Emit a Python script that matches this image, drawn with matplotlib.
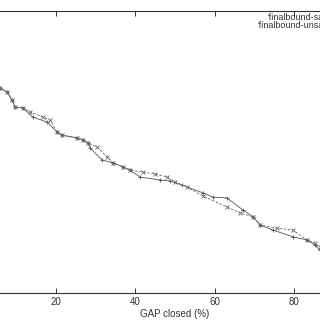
import matplotlib
matplotlib.use("Agg")
import matplotlib.pyplot as plt

plt.rcParams['font.family'] = ['Liberation Sans', 'DejaVu Sans']

# GAP closed (%) and final bound for the two runs
sat_x = [0.0, 6.0, 7.8, 9.1, 9.8, 11.8, 14.3, 17.9, 20.4, 21.6, 25.4, 26.9, 28.2,
         28.7, 31.7, 34.5, 37.0, 38.7, 41.3, 46.3, 48.8, 51.8, 57.1, 59.6, 63.1,
         67.2, 69.7, 71.5, 74.7, 79.8, 83.3, 85.3, 86.5, 89.1]
sat_y = [76.2, 72.7, 71.3, 68.4, 66.0, 65.6, 62.4, 60.6, 57.1, 56.0, 55.0, 54.3, 53.2,
         51.4, 47.2, 46.1, 44.7, 43.6, 41.1, 40.1, 39.7, 38.3, 35.5, 34.0, 33.7,
         29.4, 27.0, 24.1, 22.3, 19.9, 18.8, 17.0, 15.2, 14.2]

unsat_x = [0.0, 6.0, 7.8, 9.1, 9.8, 11.8, 13.6, 16.9, 18.6, 20.4, 21.6, 25.4, 26.9,
           28.2, 30.4, 33.0, 34.5, 37.0, 38.7, 42.0, 45.0, 48.1, 50.1, 53.1, 57.1,
           63.1, 66.4, 69.7, 71.5, 75.7, 79.8, 83.3, 85.3, 86.5, 89.1]
unsat_y = [76.2, 72.7, 71.3, 68.4, 66.0, 65.6, 64.2, 62.4, 61.3, 57.1, 56.0, 55.0, 54.3,
           53.2, 51.8, 48.2, 46.1, 44.7, 43.6, 42.9, 42.2, 41.1, 39.4, 37.6, 34.4,
           30.5, 28.4, 27.0, 24.1, 23.0, 22.3, 18.8, 17.7, 16.3, 15.2]

x_ticks = [0, 20, 40, 60, 80, 100]
x_labels = ['', '20', '40', '60', '80', '']  # 0 and 100 fall outside the crop

fig = plt.figure(figsize=(3.2, 3.2), dpi=100)
# the original picture is a crop, the plot box runs past both side edges
ax = fig.add_axes([-24 / 320, 27 / 320, 397.5 / 320, 282 / 320])

ax.plot(sat_x, sat_y, color='#555555', lw=0.6, marker='+', ms=3.5, mew=0.6)
ax.plot(unsat_x, unsat_y, color='#666666', lw=0.6, ls=(0, (3, 2)),
        marker='x', ms=3, mew=0.6)

ax.set_xlim(0, 100)
ax.set_ylim(0, 100)
ax.set_xticks(x_ticks)
ax.set_xticklabels(x_labels)
ax.set_yticklabels([])
ax.tick_params(direction='in', length=3.5, width=0.7, top=True, right=True,
               labelsize=7, pad=3, colors='#333333')
for s in ax.spines.values():
    s.set_linewidth(0.8)
    s.set_color('#333333')
ax.set_xlabel('GAP closed (%)', fontsize=7, labelpad=1, color='#333333')

# key text, cut by the right edge as in the original crop
fig.text(267 / 320, 1 - 17 / 320, "'finalbound-sat'", fontsize=6.5,
         va='center', ha='left', color='#333333')
fig.text(258 / 320, 1 - 26 / 320, "'finalbound-unsat'", fontsize=6.5,
         va='center', ha='left', color='#333333')

fig.savefig('out.png', dpi=100)
